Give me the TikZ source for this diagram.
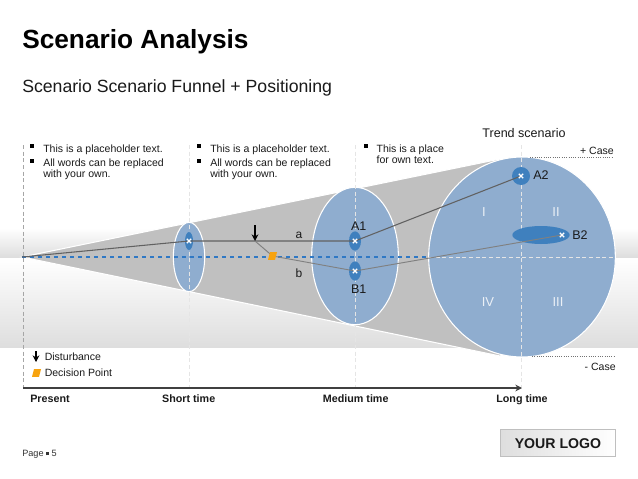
\documentclass[tikz,border=0pt]{standalone}
\usepackage{fontspec}
\setmainfont{Liberation Sans}
\usetikzlibrary{shapes.misc,shapes.geometric,arrows.meta}
\definecolor{bandgray}{HTML}{DEDEDE}
\definecolor{funnelgray}{HTML}{C0C0C0}
\definecolor{paleblue}{HTML}{8FADCF}
\definecolor{midblue}{HTML}{3F80BE}
\definecolor{dashblue}{HTML}{2F78C4}
\definecolor{orangeish}{HTML}{F7A30F}
\definecolor{inkdark}{HTML}{1A1A1A}
\tikzset{
  lab/.style={font=\fontsize{7.9}{10}\selectfont,text=inkdark,inner sep=0pt,anchor=base},
  leftlab/.style={lab,anchor=base west},
  timelab/.style={font=\bfseries\fontsize{8.05}{10}\selectfont,text=inkdark,inner sep=0pt,anchor=base},
  roman/.style={font=\fontsize{9.75}{11}\selectfont,text=white!82!paleblue,inner sep=0pt,anchor=base},
  scen/.style={font=\fontsize{9.4}{11}\selectfont,text=inkdark,inner sep=0pt,anchor=base},
  vguide/.style={densely dashed,line width=0.7pt,color=#1},
  bigell/.style={ellipse,fill=paleblue,draw=white,line width=0.8pt,inner sep=0pt},
  smallell/.style={ellipse,fill=midblue,inner sep=0pt},
  xmark/.style={cross out,draw=white,line width=0.9pt,minimum size=2.4pt,inner sep=0pt},
  bulletmark/.style={rectangle,fill=black,minimum size=3pt,inner sep=0pt},
  pathA/.style={color=black!62,line width=0.8pt},
  pathB/.style={color=black!50,line width=0.7pt},
  disturb/.style={-{Stealth[length=5pt,width=5pt]},line width=1pt,color=black},
  decisionpic/.pic={\fill[orangeish] (-4.5,3.8) -- (2.5,3.8) -- (4.5,-3.8) -- (-2.5,-3.8) -- cycle;},
}
\begin{document}
\begin{tikzpicture}[x=0.75pt,y=-0.75pt]
\useasboundingbox (0,0) rectangle (638,478);
\fill[white] (0,0) rectangle (638,478);
% background bands
\shade[top color=white,bottom color=bandgray] (0,228) rectangle (638,257);
\shade[top color=white,bottom color=bandgray] (0,258) rectangle (638,347);
% title
\node[anchor=base west,inner sep=0pt,font=\bfseries\fontsize{19.7}{22}\selectfont,text=black] (title) at (22,48.5) {Scenario Analysis};
\node[anchor=base west,inner sep=0pt,font=\fontsize{13.25}{16}\selectfont,text=inkdark] (subtitle) at (22,92) {Scenario Scenario Funnel + Positioning};
% funnel
\coordinate (apex) at (22,257);
\coordinate (ftop) at (500,159);
\coordinate (fbot) at (500,356);
\fill[funnelgray] (apex) -- (ftop) -- (522,257) -- (fbot) -- cycle;
\draw[white,line width=0.8pt] (fbot) -- (apex) -- (ftop);
% ellipses
\node[bigell,minimum width=23.5pt,minimum height=52pt] (e1) at (189,257) {};
\node[bigell,minimum width=65pt,minimum height=103pt] (e2) at (355,256) {};
\node[bigell,minimum width=140pt,minimum height=150pt] (e3) at (522,257) {};
% guides
\coordinate (g0t) at (23,145); \coordinate (g0b) at (23,388);
\coordinate (g1t) at (189,145); \coordinate (g1b) at (189,388);
\coordinate (g2t) at (355,145); \coordinate (g2b) at (355,388);
\coordinate (g3t) at (521,145); \coordinate (g3b) at (521,388);
\draw[vguide=black!35] (g0t) -- (g0b);
\draw[vguide=black!10] (g1t) -- (g1b);
\draw[vguide=black!10] (g2t) -- (g2b);
\draw[vguide=black!10] (g3t) -- (g3b);
\coordinate (hm) at (429,257); \coordinate (he) at (613,257);
\draw[vguide=black!10] (hm) -- (he);
% small scenario shapes
\node[smallell,minimum width=6pt,minimum height=13.5pt] (s1) at (189,241) {};
\node[smallell,minimum width=9pt,minimum height=14.5pt] (a1) at (355,241) {};
\node[smallell,minimum width=9pt,minimum height=14.5pt] (b1) at (355,271) {};
\node[circle,fill=midblue,minimum size=13.5pt,inner sep=0pt] (a2) at (521,176) {};
\node[smallell,minimum width=43pt,minimum height=13.5pt] (b2) at (541,235) {};
% centre points
\coordinate (s1c) at (189,241);
\coordinate (a1c) at (355,241);
\coordinate (b1c) at (355,271);
\coordinate (a2c) at (521,176);
\coordinate (b2c) at (562,235);
\coordinate (fork) at (255,241);
\coordinate (dp) at (272.5,256);
% blue dashed axis
\draw[dashblue,dashed,line width=0.9pt] (apex) -- (hm);
% paths
\draw[pathA] (apex) -- (s1c) -- (a1c) -- (a2c);
\draw[pathB] (fork) -- (dp) -- (b1c) -- (b2c);
\pic at (dp) {decisionpic};
% crosses
\node[xmark] at (s1c) {};
\node[xmark] at (a1c) {};
\node[xmark] at (b1c) {};
\node[xmark] at (a2c) {};
\node[xmark] at (b2c) {};
% disturbance
\coordinate (dtop) at (255,225);
\draw[disturb] (dtop) -- (fork);
% labels
\node[scen] (la1) at (358.7,230.7) {A1};
\node[scen] (lb1) at (358.7,293.3) {B1};
\node[scen,anchor=base west] (la2) at (533,179.3) {A2};
\node[scen,anchor=base west] (lb2) at (572,239.3) {B2};
\node[lab,font=\fontsize{9}{11}\selectfont] (la) at (299,238) {a};
\node[lab,font=\fontsize{9}{11}\selectfont] (lb) at (299,277.7) {b};
\node[roman] (r1) at (484,216) {I};
\node[roman] (r2) at (556,216) {II};
\node[roman] (r4) at (488,306) {IV};
\node[roman] (r3) at (558,306) {III};
\node[scen] (trend) at (524,137.3) {Trend scenario};
\node[lab,anchor=base east] (plus) at (614,154) {+ Case};
\node[lab,anchor=base east] (minus) at (616,370) {- Case};
\coordinate (p1) at (530,157); \coordinate (p2) at (613,157);
\coordinate (m1) at (532,356.7); \coordinate (m2) at (615,356.7);
\draw[densely dotted,black!55,line width=0.7pt] (p1) -- (p2);
\draw[densely dotted,black!55,line width=0.7pt] (m1) -- (m2);
% bullet blocks
\node[bulletmark] (b11) at (32,146) {};
\node[leftlab] (t11) at (43,152) {This is a placeholder text.};
\node[bulletmark] (b12) at (32,160.7) {};
\node[leftlab] (t12) at (43,166) {All words can be replaced};
\node[leftlab] (t13) at (43,177.3) {with your own.};
\node[bulletmark] (b21) at (199,146) {};
\node[leftlab] (t21) at (210,152) {This is a placeholder text.};
\node[bulletmark] (b22) at (199,160.7) {};
\node[leftlab] (t22) at (210,166) {All words can be replaced};
\node[leftlab] (t23) at (210,177.3) {with your own.};
\node[bulletmark] (b31) at (365.7,146) {};
\node[leftlab] (t31) at (376.3,152) {This is a place};
\node[leftlab] (t32) at (376.3,163.3) {for own text.};
% legend
\coordinate (l1) at (36,351); \coordinate (l2) at (36,362);
\draw[disturb] (l1) -- (l2);
\node[leftlab] (ld) at (44.5,360) {Disturbance};
\pic at (36.5,373) {decisionpic};
\node[leftlab] (ldt) at (44.5,376.7) {Decision Point};
% time axis
\draw[-{Stealth[length=5pt,width=5pt]},line width=1.2pt,color=black!75] (g0b) -- (522,388);
\node[timelab] (t0) at (50,402.7) {Present};
\node[timelab] (t1) at (188.7,402.7) {Short time};
\node[timelab] (t2) at (355.7,402.7) {Medium time};
\node[timelab] (t3) at (522,402.7) {Long time};
% footer
\node[anchor=base west,inner sep=0pt,font=\fontsize{6.85}{9}\selectfont,text=black!80] (page) at (22,456.7) {Page \raisebox{1pt}{\rule{2.2pt}{2.2pt}} 5};
\shade[left color=bandgray,right color=white,draw=black!25,line width=0.6pt] (500.5,429.5) rectangle (615.5,456);
\node[font=\bfseries\fontsize{10.6}{13}\selectfont,text=inkdark,inner sep=0pt,anchor=base] (logo) at (558,448.3) {YOUR LOGO};
\end{tikzpicture}
\end{document}
